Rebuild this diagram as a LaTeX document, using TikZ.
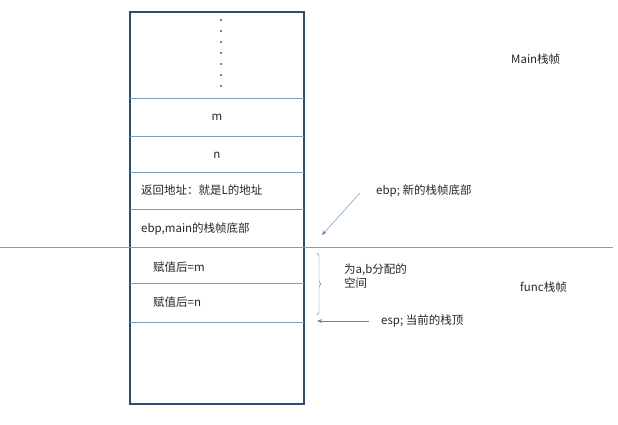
\documentclass[tikz,border=0pt]{standalone}
\usepackage{fontspec}
\setmainfont{Noto Sans CJK SC}
\usetikzlibrary{decorations.pathreplacing,arrows.meta}
\definecolor{frame}{HTML}{2F4B6E}
\definecolor{sep}{HTML}{7F9CC4}
\definecolor{arr}{HTML}{5B82B8}
\begin{document}
\begin{tikzpicture}[x=1pt,y=-1pt,
  lbl/.style={font=\fontsize{11.5}{14}\selectfont,inner sep=0pt,text=black!85},
  sepl/.style={draw=sep,line width=0.8pt}]
\useasboundingbox (0,0) rectangle (618,424);
\draw[draw=frame,line width=1.3pt] (130,12) rectangle (304,404);
\foreach \y in {98,136,172,209,283,322} \draw[sepl] (130,\y) -- (304,\y);
\draw[sepl] (0,247) -- (613,247);
\foreach \y in {20,31,42,53,64,75,86} \fill (221,\y) circle (0.8);
\node[lbl] (m) at (217,117) {m};
\node[lbl] (n) at (217,155) {n};
\node[lbl,anchor=west] (ret) at (141,190) {返回地址：就是L的地址};
\node[lbl,anchor=west] (ebpm) at (141,229) {ebp,main的栈帧底部};
\node[lbl,anchor=west] (am) at (153,267) {赋值后=m};
\node[lbl,anchor=west] (an) at (153,302) {赋值后=n};
\node[lbl,anchor=west] (mainf) at (511,59) {Main栈帧};
\node[lbl,anchor=west] (ebpn) at (376,191) {ebp; 新的栈帧底部};
\node[lbl,anchor=west,align=left] (ab) at (344,276) {为a,b分配的\\空间};
\node[lbl,anchor=west] (func) at (520,287) {func栈帧};
\node[lbl,anchor=west] (esp) at (381,321) {esp; 当前的栈顶};
\coordinate (e1) at (360,193); \coordinate (e2) at (322,235);
\draw[arr,-{Stealth[length=5pt]}] (e1) -- (e2);
\coordinate (s1) at (369,321); \coordinate (s2) at (317,321);
\draw[arr,-{Stealth[length=5pt]}] (s1) -- (s2);
\coordinate (b1) at (317,253); \coordinate (b2) at (317,315);
\draw[arr,decorate,decoration={brace,amplitude=4pt}] (b1) -- (b2);
\end{tikzpicture}
\end{document}
